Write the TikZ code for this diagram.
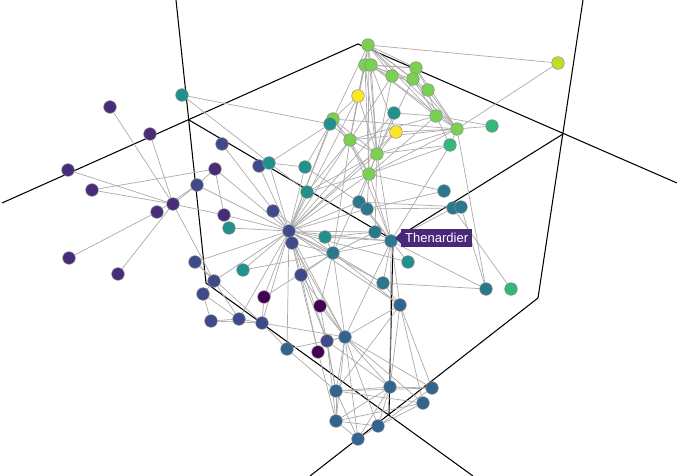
\documentclass[tikz,border=0pt]{standalone}
\usepackage{fontspec}
\setsansfont{Liberation Sans}
\pgfdeclarelayer{bg}
\pgfsetlayers{bg,main}
\definecolor{vA}{HTML}{440154}
\definecolor{vB}{HTML}{472C7A}
\definecolor{vC}{HTML}{3E4A89}
\definecolor{vD}{HTML}{31648E}
\definecolor{vE}{HTML}{2A788E}
\definecolor{vF}{HTML}{21918C}
\definecolor{vG}{HTML}{35B779}
\definecolor{vH}{HTML}{7AD151}
\definecolor{vI}{HTML}{FDE725}
\definecolor{vJ}{HTML}{BDDF26}
\definecolor{tipbg}{HTML}{482878}
\tikzset{
  dot/.style={circle,draw=black!45,line width=0.3pt,minimum size=7.2pt,inner sep=0pt},
  link/.style={draw=black!33,line width=0.4pt},
  axis/.style={black,line width=0.6pt},
}
\begin{document}
\begin{tikzpicture}[x=0.02cm,y=-0.02cm]
    \useasboundingbox (0,0) rectangle (680,476);
    %nodi del grafo
    \foreach \n/\x/\y/\c in {
        m1/110/107/vB, m2/150/134/vB, m3/68/170/vB, m4/92/190/vB, m0/173/204/vB,
        m5/157/212/vB, m6/69/258/vB, m7/118/274/vB, m8/215/169/vB, m9/224/215/vB,
        b1/197/185/vC, b2/222/144/vC, b3/259/166/vC, b4/273/211/vC, vj/289/231/vC,
        b5/292/243/vC, b6/195/262/vC, b7/214/281/vC, b8/203/294/vC, b9/211/321/vC,
        b10/239/319/vC, b11/262/323/vC, b12/301/275/vC, b13/327/341/vC,
        d1/264/297/vA, d2/320/306/vA, d3/318/352/vA,
        c1/287/349/vD, c2/345/337/vD, c3/400/305/vD, c4/336/391/vD, c5/336/421/vD,
        c6/390/387/vD, c7/432/388/vD, c8/423/403/vD, c9/378/426/vD, c10/358/439/vD,
        e1/333/253/vE, e2/359/202/vE, e3/367/209/vE, e4/444/191/vE, e5/453/208/vE,
        e6/461/207/vE, e7/375/232/vE, thenardier/391/241/vE, e8/383/283/vE, e9/486/289/vE,
        t1/182/95/vF, t2/269/163/vF, t3/305/167/vF, t4/307/192/vF, t5/229/228/vF,
        t6/325/237/vF, t7/243/270/vF, h13/333/119/vH, t8/330/124/vF, t9/394/113/vF,
        t10/408/262/vF,
        g1/511/289/vG, g2/450/145/vG, g3/492/126/vG,
        h1/368/45/vH, h2/365/65/vH, h3/371/65/vH, h4/416/68/vH, h5/392/76/vH,
        h6/413/79/vH, h7/428/90/vH, h8/436/116/vH, h9/457/129/vH, h10/350/140/vH,
        h11/377/154/vH, h12/369/174/vH,
        y1/358/96/vI, y2/396/132/vI, y3/558/63/vJ}
        \node[dot,fill=\c] (\n) at (\x,\y) {};
    %assi e archi sullo sfondo
    \begin{pgfonlayer}{bg}
        \draw[axis] (176,0) -- (206,283) -- (473,476);
        \draw[axis] (2,203) -- (358,44) -- (677,183);
        \draw[axis] (189,120) -- (393,240) -- (389,414);
        \draw[axis] (393,240) -- (563,134);
        \draw[axis] (310,476) -- (538,298) -- (583,0);
        \foreach \a/\b in {
            m1/m0, m2/m0, m3/m0, m4/m0, m4/m8, m5/b1, m6/m5, m7/m0, m0/b1, m0/m9,
            m0/b7, b1/m8, m8/m9, m9/vj, m8/vj, b1/vj, b2/vj, b3/vj, t2/vj, b4/vj, t5/vj,
            t1/t8, t1/t4, t2/t8, t2/t3, t3/e2, t3/vj, t4/vj, t6/vj, t6/e1, t6/thenardier,
            e1/vj, b5/vj, e7/vj, thenardier/vj, e2/vj, e3/vj, h12/vj, h10/vj, h13/vj,
            t8/vj, y1/vj, h11/vj, b6/vj, b7/vj, b10/vj, b11/vj, d1/vj, d2/vj, b12/vj,
            c2/vj, b13/vj, t7/vj, d3/vj, c1/vj, y2/vj, t9/vj, c3/vj, e8/vj, t10/vj,
            b6/b7, b6/b11, b7/b8, b8/b9, b9/b10, b10/b11, b8/b10, b7/b10, b9/b11,
            t7/e1, b11/d1, b11/c2, b11/c1, d1/e1, d2/e1, d2/c2, d3/b12, b12/e1, b12/b13,
            b13/c4, b13/c5, b13/c2, c1/c2, b5/e1, b5/c2, b12/c2, d2/c4, d3/c5, b13/c6,
            c1/c4, b4/e1,
            c2/c4, c2/c5, c2/c6, c2/c7, c2/c8, c2/c9, c2/c10, c2/c3, c3/c6, c3/c7,
            c3/c8, c3/c4, c4/c6, c4/c7, c4/c8, c4/c5, c5/c9, c5/c10, c5/c6, c5/c8,
            c6/c9, c6/c7, c6/c10, c9/c10, c9/c8, c9/c7, c10/c4, c2/e1, c2/thenardier,
            c3/thenardier, c3/e1, c3/e8, c6/thenardier,
            e9/e8, e9/thenardier, e9/e6, g1/e5, g2/thenardier, h9/e9, e4/e3, e4/h12,
            e2/e6, e3/e5, e5/thenardier, e8/thenardier, t10/thenardier, e7/thenardier,
            e2/thenardier, e3/thenardier, h11/thenardier, h12/thenardier, e1/thenardier,
            e1/e7, e1/e8, t6/e7, e1/h11, e1/h10, t4/h11, thenardier/h10,
            h1/h2, h1/h3, h1/h4, h1/h5, h1/h6, h1/h7, h1/h8, h1/h9, h1/y1, h1/h13,
            h1/h10, h1/y3, h1/h11, h1/h12, y3/h9, g3/h9, g3/h8, h2/h3, h2/h4, h2/h5,
            h2/h6, h2/h10, h2/h12, h2/h11, h3/h4, h3/h7, h3/h8, h3/h9, h3/h11, h3/y2,
            h4/h6, h4/h7, h4/h9, h5/h6, h5/h11, h5/h10, h6/h8, h6/h9, h6/h11, h7/h8,
            h7/h9, h8/h9, h8/h10, h8/h12, h9/h10, h9/h11, h9/h12, h9/g2, h10/h11,
            h10/h13, h10/y1, h10/h12, h11/h12, h11/y2, h11/t9, h11/h13, h12/h13,
            y1/h13, y1/h11, y2/h9, t9/h8, t8/h13, t8/h10, h13/h9, h12/e2, h12/e3,
            h12/t4, h10/t4, h13/t3, h11/e7, g2/h11, g2/h8, h12/g2}
            \draw[link] (\a) -- (\b);
    \end{pgfonlayer}
    %etichetta
    \node[fill=tipbg,text=white,font=\sffamily\fontsize{7.4}{8}\selectfont,
          inner xsep=2.2pt,inner ysep=0pt,minimum height=10.2pt,anchor=west]
          (tip) at (401,238) {Thenardier};
    \fill[tipbg] (tip.west) ++(0,6) -- ++(-6,-6) -- ++(6,-6) -- cycle;
\end{tikzpicture}
\end{document}
